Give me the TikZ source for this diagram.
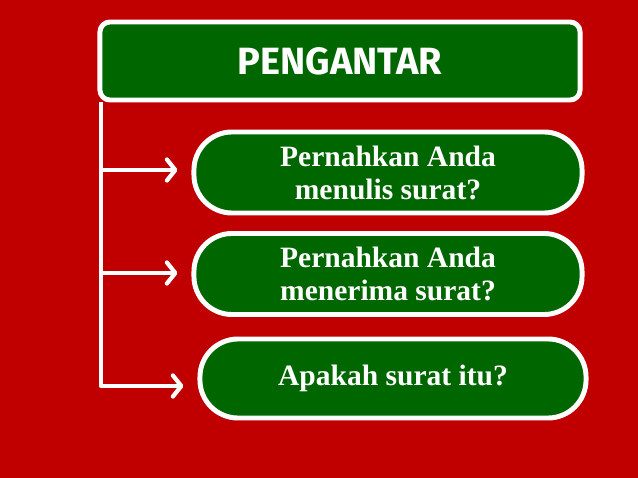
\documentclass[tikz,border=0pt]{standalone}
\usepackage{fontspec}
\setmainfont{Liberation Serif}
\newfontfamily\headfont{Fira Sans}
\usetikzlibrary{arrows.meta}

\definecolor{slidered}{RGB}{192,0,0}
\definecolor{slidegreen}{RGB}{0,102,0}

\tikzset{
  headbox/.style={draw=white, line width=3.5pt, fill=slidegreen, rounded corners=0.25cm,
    minimum width=12cm, minimum height=1.95cm, inner sep=0pt, text=white,
    font=\headfont\bfseries\fontsize{27}{30}\selectfont},
  askbox/.style={draw=white, line width=3.5pt, fill=slidegreen, rounded corners=0.95cm,
    minimum width=9.7cm, minimum height=2.025cm, inner sep=0pt, text=white, align=center,
    font=\bfseries\fontsize{21}{23.5}\selectfont},
  branch/.style={white, line width=3pt, line join=round},
  pointer/.style={branch, -{Straight Barb[length=6pt, width=15pt, round]}, shorten >=10pt}
}

\begin{document}
\begin{tikzpicture}[x=0.025cm, y=-0.025cm]
\useasboundingbox[fill=slidered] (0,0) rectangle (638,478);

\node[headbox] (head) at (340,61) {PENGANTAR};

\node[askbox] (ask1) at (388,172.5) {Pernahkan Anda\\menulis surat?};
\node[askbox] (ask2) at (388,274) {Pernahkan Anda\\menerima surat?};
\node[askbox, minimum width=9.65cm, minimum height=1.975cm] (ask3) at (393,378.5) {Apakah surat itu?};

\coordinate (j1) at (101,170);
\coordinate (j2) at (101,273);
\coordinate (j3) at (101,386);

\draw[pointer] (head.south -| j3) -- (j3) -- (j3 -| ask3.west);
\draw[pointer] (j1) -- (j1 -| ask1.west);
\draw[pointer] (j2) -- (j2 -| ask2.west);
\end{tikzpicture}
\end{document}
